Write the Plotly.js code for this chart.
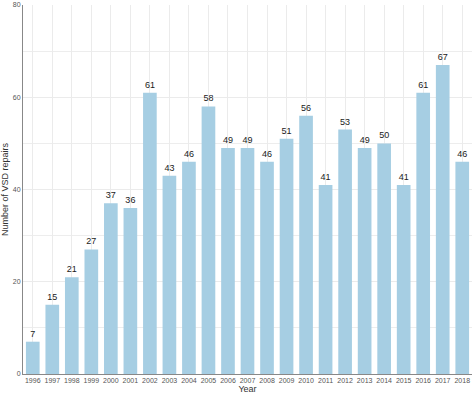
<!DOCTYPE html>
<html><head><meta charset="utf-8">
<script src="https://cdn.plot.ly/plotly-3.0.1.min.js"></script>
<style>html,body{margin:0;padding:0;background:#fff;}#c{width:474px;height:394px;}</style>
</head><body><div id="c"></div>
<script>
const years = ['1996','1997','1998','1999','2000','2001','2002','2003','2004','2005','2006','2007','2008','2009','2010','2011','2012','2013','2014','2015','2016','2017','2018'];
const repairs = [7,15,21,27,37,36,61,43,46,58,49,49,46,51,56,41,53,49,50,41,61,67,46];
const yTicks = [0,20,40,60,80];

Plotly.newPlot('c', [{
  type: 'bar',
  x: years,
  y: repairs,
  text: repairs.map(String),
  textposition: 'outside',
  cliponaxis: false,
  textfont: {family: 'Liberation Sans, Arial, sans-serif', size: 9, color: '#1a1a1a'},
  marker: {color: '#a6cee3'},
  width: 0.7,
  hoverinfo: 'none'
}], {
  width: 474, height: 394,
  margin: {l: 23, r: 2, t: 5, b: 20, pad: 0},
  paper_bgcolor: '#fff', plot_bgcolor: '#fff',
  font: {family: 'Liberation Sans, Arial, sans-serif', color: '#444'},
  showlegend: false,
  xaxis: {
    type: 'category',
    range: [-0.5, 22.5],
    showline: true, linecolor: '#888', linewidth: 1,
    showgrid: true, gridcolor: '#ebebeb', gridwidth: 1,
    ticks: '', tickfont: {size: 7, color: '#555'},
    title: {text: 'Year', font: {size: 9, color: '#333'}, standoff: 3},
    automargin: false, zeroline: false
  },
  yaxis: {
    range: [0, 80],
    tickvals: yTicks,
    showline: true, linecolor: '#888', linewidth: 1,
    showgrid: true, gridcolor: '#ebebeb', gridwidth: 1,
    minor: {dtick: 10, tick0: 0, showgrid: true, gridcolor: '#ededed', gridwidth: 1},
    ticks: '', tickfont: {size: 7, color: '#555'},
    title: {text: 'Number of VSD repairs', font: {size: 9, color: '#333'}, standoff: 3},
    automargin: false, zeroline: false
  },
  bargap: 0.3
}, {staticPlot: true, displayModeBar: false});
</script></body></html>
